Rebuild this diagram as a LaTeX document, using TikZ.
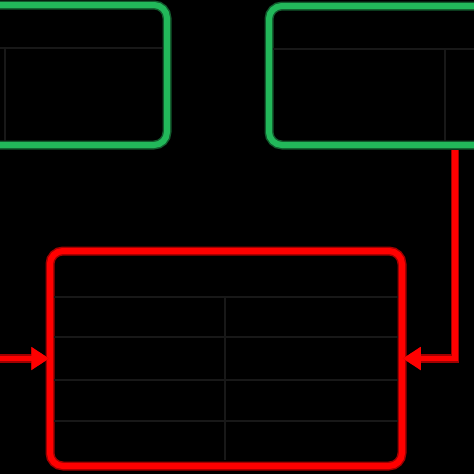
\documentclass[tikz,border=0pt]{standalone}
\usetikzlibrary{arrows.meta}
\definecolor{grnB}{RGB}{34,184,90}
\definecolor{grnD}{RGB}{18,90,45}
\definecolor{redB}{RGB}{255,0,0}
\definecolor{redD}{RGB}{160,0,0}
\definecolor{sep}{RGB}{24,24,24}
\tikzset{
  tablebox/.style={rectangle, inner sep=0pt, rounded corners=13pt, line width=1.5pt, double distance=6pt},
  greenbox/.style={tablebox, draw=grnD, double=grnB},
  redbox/.style={tablebox, draw=redD, double=redB},
  sepline/.style={draw=sep, line width=2pt},
  conn/.style={preaction={draw=redD, line width=8.5pt}, draw=redB, line width=5.5pt,
    -{Triangle[length=18pt,width=22pt,fill=redB]}},
}
\begin{document}
\begin{tikzpicture}[x=1pt,y=-1pt]
\useasboundingbox (0,0) rectangle (474,474);
\fill[black] (0,0) rectangle (474,474);
% boxes
\node[greenbox, minimum width=197pt, minimum height=140pt] (lg) at (68.5,75) {};
\node[greenbox, minimum width=251pt, minimum height=139pt] (rg) at (394.5,75.5) {};
\node[redbox, minimum width=352pt, minimum height=215pt] (rb) at (226,358.5) {};
% separators in left green box
\draw[sepline] (-5,47.5) -- (163,47.5);
\draw[sepline] (5,48) -- (5,141);
% separators in right green box
\draw[sepline] (273,49) -- (480,49);
\draw[sepline] (445,50) -- (445,141);
% separators in red box
\foreach \yy in {297,337,380,421}
  \draw[sepline] (54,\yy) -- (398,\yy);
\draw[sepline] (225,297) -- (225,460);
% connectors
\coordinate (rgout) at (455,150);
\coordinate (lin) at (-5,358.5);
\draw[conn] (rgout) |- (rb.east);
\draw[conn] (lin) -- (rb.west);
\end{tikzpicture}
\end{document}
